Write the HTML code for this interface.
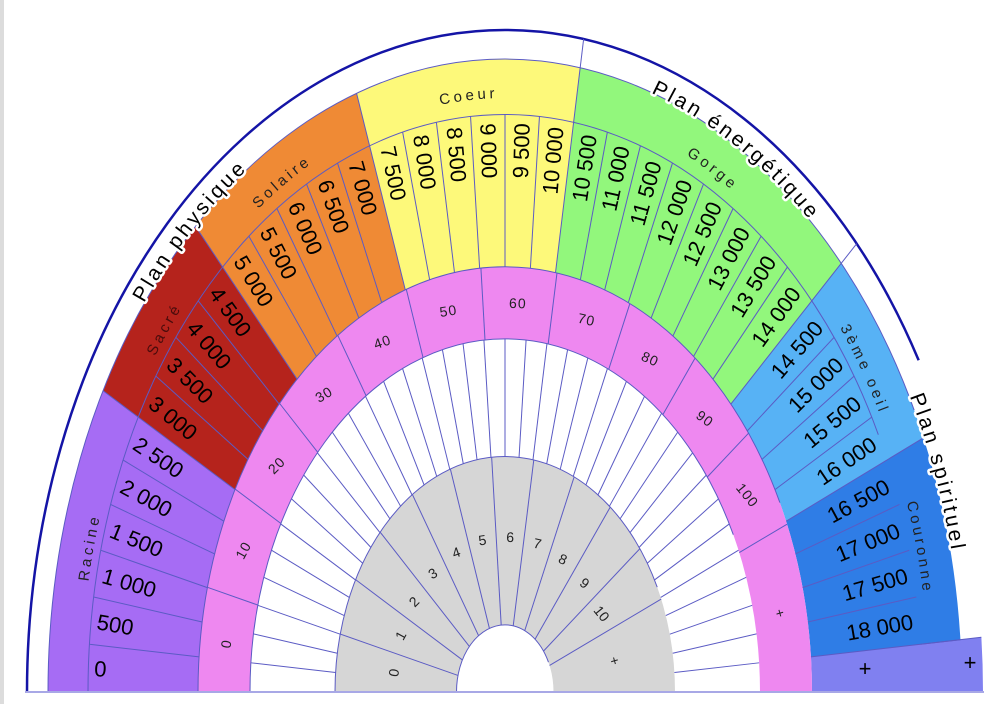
<!DOCTYPE html>
<html><head><meta charset="utf-8"><style>
html,body{margin:0;padding:0;background:#fff;width:1000px;height:704px;overflow:hidden;}
svg{display:block;overflow:hidden;}
text{font-family:"Liberation Sans",Arial,sans-serif;}
</style></head><body>
<svg width="1000" height="704" viewBox="0 0 1000 704" xmlns="http://www.w3.org/2000/svg" xmlns:xlink="http://www.w3.org/1999/xlink">
<rect x="0" y="0" width="1000" height="704" fill="#fff"/>
<rect x="0" y="0" width="4" height="704" fill="#dcdcdc"/>
<defs>
<path id="pp1" d="M62.1,531.2 A458,632 0 0 1 463,62.7"/>
<path id="pp2" d="M492.4,60.2 A458,632 0 0 1 895.2,361"/>
<path id="pp3" d="M851.7,279 A458,632 0 0 1 963,683.2"/>
<path id="b1" d="M81,689.8 A424,594 0 0 1 131.4,411.2"/>
<path id="b2" d="M117.3,451.4 A424,594 0 0 1 243.3,224.6"/>
<path id="b3" d="M206.3,270.4 A424,594 0 0 1 382.5,123.3"/>
<path id="b4" d="M368.8,129.5 A424,594 0 0 1 573.2,105.7"/>
<path id="b5" d="M610.6,116.7 A424,594 0 0 1 790.9,253.4"/>
<path id="b6" d="M793.2,256.3 A424,594 0 0 1 905.5,497"/>
<path id="b7" d="M878.6,411.2 A424,594 0 0 1 929,689.8"/>
</defs>

<g transform="translate(505 692) scale(1 1.385)" fill="none">
  <circle r="382" stroke="#a66cf4" stroke-width="150" stroke-dasharray="190 5000" transform="rotate(180)"/>
  <circle r="382" stroke="#b5231c" stroke-width="150" stroke-dasharray="126.8 5000" transform="rotate(208.42)"/>
  <circle r="382" stroke="#ef8a35" stroke-width="150" stroke-dasharray="158.4 5000" transform="rotate(227.37)"/>
  <circle r="382" stroke="#fdf97a" stroke-width="150" stroke-dasharray="190 5000" transform="rotate(251.05)"/>
  <circle r="382" stroke="#92f77c" stroke-width="150" stroke-dasharray="253.1 5000" transform="rotate(279.47)"/>
  <circle r="382" stroke="#57b2f5" stroke-width="150" stroke-dasharray="126.8 5000" transform="rotate(317.37)"/>
  <circle r="382" stroke="#2f7de6" stroke-width="150" stroke-dasharray="126.8 5000" transform="rotate(336.32)"/>
  <circle r="392.5" stroke="#8080f0" stroke-width="171" stroke-dasharray="32.6 5000" transform="rotate(355.26)"/>
  <circle r="281" stroke="#ee88f0" stroke-width="52" stroke-dasharray="882.8 5000" transform="rotate(180)"/>
  <circle r="109.25" stroke="#d6d6d6" stroke-width="121.5" stroke-dasharray="343.2 5000" transform="rotate(180)"/>

  <g stroke="#5b5bc4" stroke-width="1">
    <circle r="48.5" stroke-dasharray="152.4 5000" transform="rotate(180)" vector-effect="non-scaling-stroke"/>
    <circle r="170" stroke-dasharray="534.1 5000" transform="rotate(180)" vector-effect="non-scaling-stroke"/>
    <circle r="255" stroke-dasharray="801.1 5000" transform="rotate(180)" vector-effect="non-scaling-stroke"/>
    <circle r="307" stroke-dasharray="964.5 5000" transform="rotate(180)" vector-effect="non-scaling-stroke"/>
    <circle r="417" stroke-dasharray="1310 5000" transform="rotate(180)" vector-effect="non-scaling-stroke"/>
    <circle r="457" stroke-dasharray="1435.7 5000" transform="rotate(180)" vector-effect="non-scaling-stroke"/>
  </g>
  <circle r="478" stroke="#1414a6" stroke-width="2.5" stroke-dasharray="1462.2 5000" transform="rotate(180)" vector-effect="non-scaling-stroke"/>

  <g stroke="#5b5bc4" stroke-width="1">
    <g id="cl"><line x1="170" x2="255" vector-effect="non-scaling-stroke"/><line x1="307" x2="417" vector-effect="non-scaling-stroke"/></g>
    <use href="#cl" transform="rotate(184.74)"/><use href="#cl" transform="rotate(189.47)"/><use href="#cl" transform="rotate(194.21)"/><use href="#cl" transform="rotate(198.95)"/><use href="#cl" transform="rotate(203.68)"/><use href="#cl" transform="rotate(208.42)"/><use href="#cl" transform="rotate(213.16)"/><use href="#cl" transform="rotate(217.89)"/><use href="#cl" transform="rotate(222.63)"/><use href="#cl" transform="rotate(227.37)"/><use href="#cl" transform="rotate(232.11)"/><use href="#cl" transform="rotate(236.84)"/><use href="#cl" transform="rotate(241.58)"/><use href="#cl" transform="rotate(246.32)"/><use href="#cl" transform="rotate(251.05)"/><use href="#cl" transform="rotate(255.79)"/><use href="#cl" transform="rotate(260.53)"/><use href="#cl" transform="rotate(265.26)"/><use href="#cl" transform="rotate(270)"/><use href="#cl" transform="rotate(274.74)"/><use href="#cl" transform="rotate(279.47)"/><use href="#cl" transform="rotate(284.21)"/><use href="#cl" transform="rotate(288.95)"/><use href="#cl" transform="rotate(293.68)"/><use href="#cl" transform="rotate(298.42)"/><use href="#cl" transform="rotate(303.16)"/><use href="#cl" transform="rotate(307.89)"/><use href="#cl" transform="rotate(312.63)"/><use href="#cl" transform="rotate(317.37)"/><use href="#cl" transform="rotate(322.11)"/><use href="#cl" transform="rotate(326.84)"/><use href="#cl" transform="rotate(331.58)"/><use href="#cl" transform="rotate(336.32)"/><use href="#cl" transform="rotate(341.05)"/><use href="#cl" transform="rotate(345.79)"/><use href="#cl" transform="rotate(350.53)"/><use href="#cl" transform="rotate(355.26)"/>
    <g id="ll"><line x1="417" x2="457" vector-effect="non-scaling-stroke"/></g>
    <use href="#ll" transform="rotate(208.42)"/><use href="#ll" transform="rotate(227.37)"/><use href="#ll" transform="rotate(251.05)"/><use href="#ll" transform="rotate(336.32)"/><use href="#ll" transform="rotate(355.26)"/>
    <g transform="rotate(279.47)"><line x1="417" x2="478" vector-effect="non-scaling-stroke"/></g>
    <g transform="rotate(317.37)"><line x1="417" x2="478" vector-effect="non-scaling-stroke"/></g>
    <g transform="rotate(355.26)"><line x1="417" x2="478" vector-effect="non-scaling-stroke"/></g>
    <g id="pl"><line x1="48.5" x2="170" vector-effect="non-scaling-stroke"/><line x1="255" x2="307" vector-effect="non-scaling-stroke"/></g>
    <use href="#pl" transform="rotate(194.25)"/><use href="#pl" transform="rotate(208.5)"/><use href="#pl" transform="rotate(222.75)"/><use href="#pl" transform="rotate(237)"/><use href="#pl" transform="rotate(251.25)"/><use href="#pl" transform="rotate(265.5)"/><use href="#pl" transform="rotate(279.75)"/><use href="#pl" transform="rotate(294)"/><use href="#pl" transform="rotate(308.25)"/><use href="#pl" transform="rotate(322.5)"/><use href="#pl" transform="rotate(336.75)"/>
  </g>
</g>
<line x1="25" y1="692" x2="984" y2="692" stroke="#a8a8e6" stroke-width="2"/>

<g font-size="21" letter-spacing="3" fill="#000" stroke="#fff" stroke-width="5" paint-order="stroke" stroke-linejoin="round">
<text><textPath href="#pp1" startOffset="50%" text-anchor="middle">Plan physique</textPath></text>
<text><textPath href="#pp2" startOffset="50%" text-anchor="middle">Plan énergétique</textPath></text>
<text><textPath href="#pp3" startOffset="50%" text-anchor="middle">Plan spirituel</textPath></text>
</g>
<g font-size="15" letter-spacing="3.5" fill="#222">
<text><textPath href="#b1" startOffset="50%" text-anchor="middle">Racine</textPath></text>
<text fill="#4a0c0c"><textPath href="#b2" startOffset="50%" text-anchor="middle">Sacré</textPath></text>
<text><textPath href="#b3" startOffset="50%" text-anchor="middle">Solaire</textPath></text>
<text><textPath href="#b4" startOffset="50%" text-anchor="middle">Coeur</textPath></text>
<text><textPath href="#b5" startOffset="50%" text-anchor="middle">Gorge</textPath></text>
<text><textPath href="#b6" startOffset="50%" text-anchor="middle">3ème oeil</textPath></text>
<text><textPath href="#b7" startOffset="50%" text-anchor="middle">Couronne</textPath></text>
</g>

<g font-size="22" fill="#000">
<text dy=".35em" transform="translate(505 692) scale(1 1.385) rotate(182.37) translate(411 0) rotate(-182.37) scale(1 0.72202) rotate(3.28)">0</text>
<text dy=".35em" transform="translate(505 692) scale(1 1.385) rotate(187.11) translate(411 0) rotate(-187.11) scale(1 0.72202) rotate(9.80)">500</text>
<text dy=".35em" transform="translate(505 692) scale(1 1.385) rotate(191.84) translate(411 0) rotate(-191.84) scale(1 0.72202) rotate(16.19)">1 000</text>
<text dy=".35em" transform="translate(505 692) scale(1 1.385) rotate(196.58) translate(411 0) rotate(-196.58) scale(1 0.72202) rotate(22.41)">1 500</text>
<text dy=".35em" transform="translate(505 692) scale(1 1.385) rotate(201.32) translate(411 0) rotate(-201.32) scale(1 0.72202) rotate(28.39)">2 000</text>
<text dy=".35em" transform="translate(505 692) scale(1 1.385) rotate(206.05) translate(411 0) rotate(-206.05) scale(1 0.72202) rotate(34.10)">2 500</text>
<text dy=".35em" transform="translate(505 692) scale(1 1.385) rotate(210.79) translate(411 0) rotate(-210.79) scale(1 0.72202) rotate(39.54)">3 000</text>
<text dy=".35em" transform="translate(505 692) scale(1 1.385) rotate(215.53) translate(411 0) rotate(-215.53) scale(1 0.72202) rotate(44.68)">3 500</text>
<text dy=".35em" transform="translate(505 692) scale(1 1.385) rotate(220.26) translate(411 0) rotate(-220.26) scale(1 0.72202) rotate(49.52)">4 000</text>
<text dy=".35em" transform="translate(505 692) scale(1 1.385) rotate(225.00) translate(411 0) rotate(-225.00) scale(1 0.72202) rotate(54.17)">4 500</text>
<text dy=".35em" transform="translate(505 692) scale(1 1.385) rotate(229.74) translate(411 0) rotate(-229.74) scale(1 0.72202) rotate(58.58)">5 000</text>
<text dy=".35em" transform="translate(505 692) scale(1 1.385) rotate(234.47) translate(411 0) rotate(-234.47) scale(1 0.72202) rotate(62.73)">5 500</text>
<text dy=".35em" transform="translate(505 692) scale(1 1.385) rotate(239.21) translate(411 0) rotate(-239.21) scale(1 0.72202) rotate(66.70)">6 000</text>
<text dy=".35em" transform="translate(505 692) scale(1 1.385) rotate(243.95) translate(411 0) rotate(-243.95) scale(1 0.72202) rotate(70.53)">6 500</text>
<text dy=".35em" transform="translate(505 692) scale(1 1.385) rotate(248.68) translate(411 0) rotate(-248.68) scale(1 0.72202) rotate(74.25)">7 000</text>
<text dy=".35em" transform="translate(505 692) scale(1 1.385) rotate(253.42) translate(411 0) rotate(-253.42) scale(1 0.72202) rotate(77.88)">7 500</text>
<text dy=".35em" transform="translate(505 692) scale(1 1.385) rotate(258.16) translate(411 0) rotate(-258.16) scale(1 0.72202) rotate(81.39)">8 000</text>
<text dy=".35em" transform="translate(505 692) scale(1 1.385) rotate(262.89) translate(411 0) rotate(-262.89) scale(1 0.72202) rotate(84.86)">8 500</text>
<text dy=".35em" transform="translate(505 692) scale(1 1.385) rotate(267.63) translate(411 0) rotate(-267.63) scale(1 0.72202) rotate(88.29)">9 000</text>
<g text-anchor="end">
<text dy=".35em" transform="translate(505 692) scale(1 1.385) rotate(272.37) translate(411 0) rotate(-272.37) scale(1 0.72202) rotate(-88.29)">9 500</text>
<text dy=".35em" transform="translate(505 692) scale(1 1.385) rotate(277.11) translate(411 0) rotate(-277.11) scale(1 0.72202) rotate(-84.86)">10 000</text>
<text dy=".35em" transform="translate(505 692) scale(1 1.385) rotate(281.84) translate(411 0) rotate(-281.84) scale(1 0.72202) rotate(-81.39)">10 500</text>
<text dy=".35em" transform="translate(505 692) scale(1 1.385) rotate(286.58) translate(411 0) rotate(-286.58) scale(1 0.72202) rotate(-77.88)">11 000</text>
<text dy=".35em" transform="translate(505 692) scale(1 1.385) rotate(291.32) translate(411 0) rotate(-291.32) scale(1 0.72202) rotate(-74.25)">11 500</text>
<text dy=".35em" transform="translate(505 692) scale(1 1.385) rotate(296.05) translate(411 0) rotate(-296.05) scale(1 0.72202) rotate(-70.53)">12 000</text>
<text dy=".35em" transform="translate(505 692) scale(1 1.385) rotate(300.79) translate(411 0) rotate(-300.79) scale(1 0.72202) rotate(-66.70)">12 500</text>
<text dy=".35em" transform="translate(505 692) scale(1 1.385) rotate(305.53) translate(411 0) rotate(-305.53) scale(1 0.72202) rotate(-62.73)">13 000</text>
<text dy=".35em" transform="translate(505 692) scale(1 1.385) rotate(310.26) translate(411 0) rotate(-310.26) scale(1 0.72202) rotate(-58.58)">13 500</text>
<text dy=".35em" transform="translate(505 692) scale(1 1.385) rotate(315.00) translate(411 0) rotate(-315.00) scale(1 0.72202) rotate(-54.17)">14 000</text>
<text dy=".35em" transform="translate(505 692) scale(1 1.385) rotate(319.74) translate(411 0) rotate(-319.74) scale(1 0.72202) rotate(-49.52)">14 500</text>
<text dy=".35em" transform="translate(505 692) scale(1 1.385) rotate(324.47) translate(411 0) rotate(-324.47) scale(1 0.72202) rotate(-44.68)">15 000</text>
<text dy=".35em" transform="translate(505 692) scale(1 1.385) rotate(329.21) translate(411 0) rotate(-329.21) scale(1 0.72202) rotate(-39.54)">15 500</text>
<text dy=".35em" transform="translate(505 692) scale(1 1.385) rotate(333.95) translate(411 0) rotate(-333.95) scale(1 0.72202) rotate(-34.10)">16 000</text>
<text dy=".35em" transform="translate(505 692) scale(1 1.385) rotate(338.68) translate(411 0) rotate(-338.68) scale(1 0.72202) rotate(-28.39)">16 500</text>
<text dy=".35em" transform="translate(505 692) scale(1 1.385) rotate(343.42) translate(411 0) rotate(-343.42) scale(1 0.72202) rotate(-22.41)">17 000</text>
<text dy=".35em" transform="translate(505 692) scale(1 1.385) rotate(348.16) translate(411 0) rotate(-348.16) scale(1 0.72202) rotate(-16.19)">17 500</text>
<text dy=".35em" transform="translate(505 692) scale(1 1.385) rotate(352.89) translate(411 0) rotate(-352.89) scale(1 0.72202) rotate(-9.80)">18 000</text>
</g>
<text x="865" y="676" text-anchor="middle">+</text>
<text x="970" y="670" text-anchor="middle">+</text>
</g>

<g font-size="14" fill="#222" text-anchor="middle" letter-spacing="1">
<text dy=".35em" transform="translate(505 692) scale(1 1.385) rotate(187.125) translate(281 0) rotate(-187.125) scale(1 0.72202) rotate(-80.18)">0</text>
<text dy=".35em" transform="translate(505 692) scale(1 1.385) rotate(201.375) translate(281 0) rotate(-201.375) scale(1 0.72202) rotate(-61.54)">10</text>
<text dy=".35em" transform="translate(505 692) scale(1 1.385) rotate(215.625) translate(281 0) rotate(-215.625) scale(1 0.72202) rotate(-45.23)">20</text>
<text dy=".35em" transform="translate(505 692) scale(1 1.385) rotate(229.875) translate(281 0) rotate(-229.875) scale(1 0.72202) rotate(-31.32)">30</text>
<text dy=".35em" transform="translate(505 692) scale(1 1.385) rotate(244.125) translate(281 0) rotate(-244.125) scale(1 0.72202) rotate(-19.31)">40</text>
<text dy=".35em" transform="translate(505 692) scale(1 1.385) rotate(258.375) translate(281 0) rotate(-258.375) scale(1 0.72202) rotate(-8.44)">50</text>
<text dy=".35em" transform="translate(505 692) scale(1 1.385) rotate(272.625) translate(281 0) rotate(-272.625) scale(1 0.72202) rotate(1.9)">60</text>
<text dy=".35em" transform="translate(505 692) scale(1 1.385) rotate(286.875) translate(281 0) rotate(-286.875) scale(1 0.72202) rotate(12.33)">70</text>
<text dy=".35em" transform="translate(505 692) scale(1 1.385) rotate(301.125) translate(281 0) rotate(-301.125) scale(1 0.72202) rotate(23.57)">80</text>
<text dy=".35em" transform="translate(505 692) scale(1 1.385) rotate(315.375) translate(281 0) rotate(-315.375) scale(1 0.72202) rotate(36.19)">90</text>
<text dy=".35em" transform="translate(505 692) scale(1 1.385) rotate(329.625) translate(281 0) rotate(-329.625) scale(1 0.72202) rotate(50.93)">100</text>
<text dy=".35em" transform="translate(505 692) scale(1 1.385) rotate(348.375) translate(281 0) rotate(-348.375) scale(1 0.72202) rotate(74.10)">+</text>
</g>
<g font-size="14" fill="#222" text-anchor="middle">
<text dy=".35em" transform="translate(505 692) scale(1 1.385) rotate(187.125) translate(112 0) rotate(-187.125) scale(1 0.72202) rotate(-80.18)">0</text>
<text dy=".35em" transform="translate(505 692) scale(1 1.385) rotate(201.375) translate(112 0) rotate(-201.375) scale(1 0.72202) rotate(-61.54)">1</text>
<text dy=".35em" transform="translate(505 692) scale(1 1.385) rotate(215.625) translate(112 0) rotate(-215.625) scale(1 0.72202) rotate(-45.23)">2</text>
<text dy=".35em" transform="translate(505 692) scale(1 1.385) rotate(229.875) translate(112 0) rotate(-229.875) scale(1 0.72202) rotate(-31.32)">3</text>
<text dy=".35em" transform="translate(505 692) scale(1 1.385) rotate(244.125) translate(112 0) rotate(-244.125) scale(1 0.72202) rotate(-19.31)">4</text>
<text dy=".35em" transform="translate(505 692) scale(1 1.385) rotate(258.375) translate(112 0) rotate(-258.375) scale(1 0.72202) rotate(-8.44)">5</text>
<text dy=".35em" transform="translate(505 692) scale(1 1.385) rotate(272.625) translate(112 0) rotate(-272.625) scale(1 0.72202) rotate(1.9)">6</text>
<text dy=".35em" transform="translate(505 692) scale(1 1.385) rotate(286.875) translate(112 0) rotate(-286.875) scale(1 0.72202) rotate(12.33)">7</text>
<text dy=".35em" transform="translate(505 692) scale(1 1.385) rotate(301.125) translate(112 0) rotate(-301.125) scale(1 0.72202) rotate(23.57)">8</text>
<text dy=".35em" transform="translate(505 692) scale(1 1.385) rotate(315.375) translate(112 0) rotate(-315.375) scale(1 0.72202) rotate(36.19)">9</text>
<text dy=".35em" transform="translate(505 692) scale(1 1.385) rotate(329.625) translate(112 0) rotate(-329.625) scale(1 0.72202) rotate(50.93)">10</text>
<text dy=".35em" transform="translate(505 692) scale(1 1.385) rotate(348.375) translate(112 0) rotate(-348.375) scale(1 0.72202) rotate(74.10)">+</text>
</g>
</svg>
</body></html>
